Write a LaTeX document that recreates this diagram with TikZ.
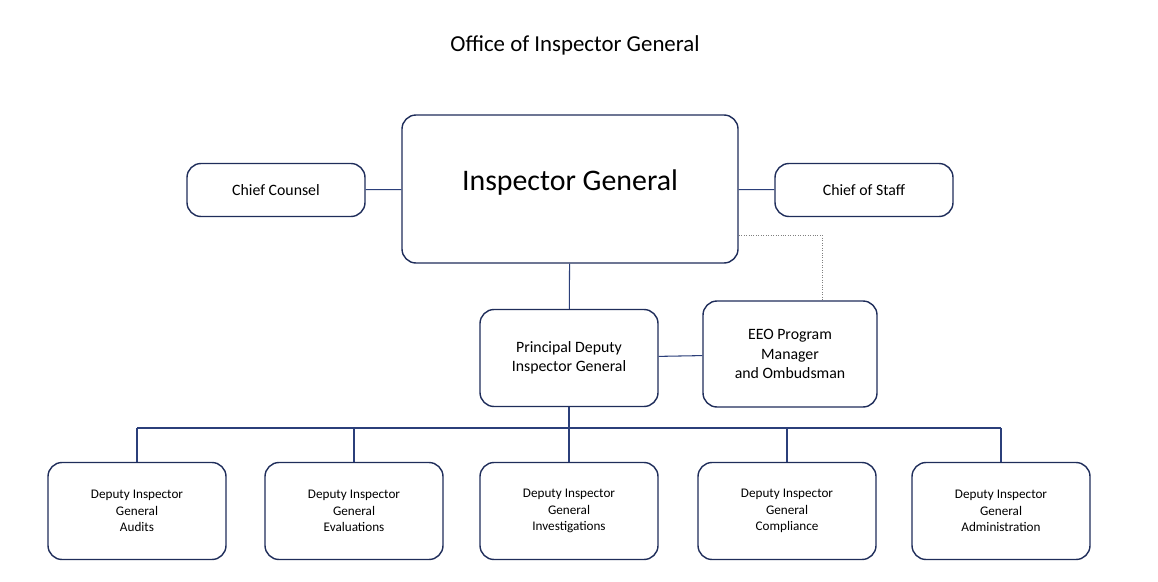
\documentclass[tikz,border=0pt]{standalone}
\usepackage{fontspec}
\setmainfont{Carlito}
\usetikzlibrary{positioning,calc}
\definecolor{boxline}{HTML}{1F2D5A}
\definecolor{wire}{HTML}{2B3F7A}

\begin{document}
\begin{tikzpicture}[x=0.02cm,y=-0.02cm,
    office/.style={draw=boxline, thick, rounded corners=8pt, align=center, inner sep=0pt},
    wirestyle/.style={wire, semithick}]
    \useasboundingbox (0,0) rectangle (1158,581);
    % Title
    \node[font=\fontsize{13}{15}\selectfont] (title) at (575,45) {Office of Inspector General};
    % Top row
    \node[office, minimum width=336*0.02cm, minimum height=148*0.02cm] (ig) at (570,189) {};
    \node[font=\fontsize{17}{20}\selectfont] at (570,183) {Inspector General};
    \node[office, minimum width=178*0.02cm, minimum height=53*0.02cm, font=\fontsize{9}{11}\selectfont] (counsel) at (276,190) {Chief Counsel};
    \node[office, minimum width=178*0.02cm, minimum height=53*0.02cm, font=\fontsize{9}{11}\selectfont] (staff) at (864,190) {Chief of Staff};
    % Middle row
    \node[office, minimum width=178*0.02cm, minimum height=97*0.02cm, font=\fontsize{9}{11}\selectfont] (pdig) at (569,358) {Principal Deputy\\Inspector General};
    \node[office, minimum width=174*0.02cm, minimum height=106*0.02cm, font=\fontsize{9}{11}\selectfont] (eeo) at (790,354) {EEO Program\\Manager\\and Ombudsman};
    % Bottom row
    \foreach \nm/\xx/\lbl in {audits/137/Audits, evals/354/Evaluations, invest/569/Investigations, compl/787/Compliance, admin/1001/Administration}
      \node[office, minimum width=178*0.02cm, minimum height=97*0.02cm, font=\fontsize{7.5}{9.5}\selectfont] (\nm) at (\xx,511) {Deputy Inspector\\General\\\lbl};
    % Connectors
    \draw[wirestyle] (counsel) -- (ig);
    \draw[wirestyle] (staff) -- (ig);
    \draw[wirestyle] (ig) -- (pdig);
    \draw[wirestyle] (pdig) -- (eeo);
    \draw[gray, densely dotted] (ig.east |- 0,235) -| (822,0 |- eeo.north);
    \coordinate (bus) at (569,428);
    \draw[wirestyle] (pdig) -- (bus);
    \draw[wirestyle] (audits.north |- bus) -- (admin.north |- bus);
    \foreach \nm in {audits, evals, invest, compl, admin}
      \draw[wirestyle] (\nm.north |- bus) -- (\nm);
\end{tikzpicture}
\end{document}
